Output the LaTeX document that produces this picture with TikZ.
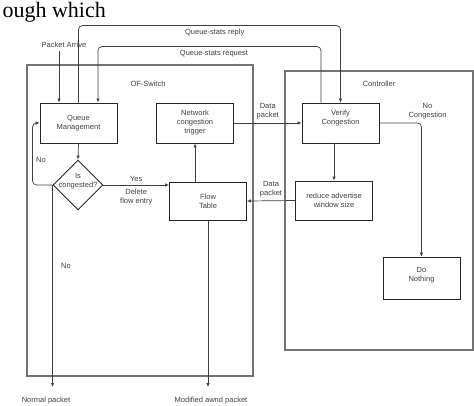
\documentclass[tikz,border=0pt]{standalone}
\usepackage{fontspec}
\setmainfont{Liberation Sans}
\newfontfamily\paperfont{Liberation Serif}
\usetikzlibrary{positioning}
\usetikzlibrary{shapes.geometric}
\usetikzlibrary{arrows.meta}
\tikzset{every node/.style={font=\fontsize{7.5}{9}\selectfont, text=black!75, align=center}}
\tikzset{blk/.style={draw=black!85, line width=0.9pt, minimum width=77pt, minimum height=40pt, inner sep=1pt}}
\tikzset{area/.style={draw=black!55, line width=1.2pt}}
\tikzset{flow/.style={draw=black!75, line width=0.7pt, -{Latex[length=4pt,width=3.5pt]}}}

\begin{document}
\begin{tikzpicture}[x=1pt, y=-1pt]
\useasboundingbox (0,0) rectangle (474,405);
\node[anchor=base west, font=\paperfont\fontsize{22}{24}\selectfont, text=black] (cut) at (-1,17) {ough which};
% switch and controller
\node[area, minimum width=226pt, minimum height=311pt] (ofs) at (140,220.5) {};
\node[area, minimum width=188pt, minimum height=279pt] (ctrl) at (379,210.5) {};
\node (ofsl) at (148,84) {OF-Switch};
\node (ctrll) at (379,84) {Controller};
\node[blk] (qm) at (78.5,123) {Queue\\Management};
\node[blk] (nct) at (195,123) {Network\\congestion\\trigger};
\node[blk] (vc) at (340.5,123) {};
\node[yshift=5pt] (vcl) at (vc) {Verify\\Congestion};
\node[blk, minimum height=38pt] (ft) at (208,201) {Flow\\Table};
\node[blk, minimum height=39pt] (raws) at (334,200.5) {reduce advertise\\window size};
\node[blk, minimum height=42pt] (dn) at (421.5,278) {};
\node[yshift=3pt] (dnl) at (dn) {Do\\Nothing};
\node[diamond, draw=black!85, line width=0.9pt, minimum size=50pt, inner sep=0pt] (dec) at (78,185) {};
\node[yshift=4pt] (decl) at (dec) {Is\\congested?};
\node (pa) at (64,45) {Packet Arrive};
\node (npk) at (46,401) {Normal packet};
\node (mod) at (211,401) {Modified awnd packet};
\coordinate (out) at (0,387);
\coordinate (pin) at ([xshift=-19.5pt]qm.north);
\coordinate (rqin) at ([xshift=19.5pt]qm.north);
\coordinate (rqout) at ([xshift=-19.5pt]vc.north);
% connectors
\draw[flow, rounded corners=4pt] (qm.north) -- ++(0,-77) -| (vc.north) node[pos=0.26, below] {Queue-stats reply};
\draw[flow, rounded corners=4pt] (rqout) -- ++(0,-56) -| (rqin) node[pos=0.24, below] {Queue-stats request};
\draw[flow] (pin |- pa.south) -- (pin);
\draw[flow] (qm.south) -- (dec.north);
\draw[flow] (dec.east) -- (dec.east -| ft.west) node[midway, above] {Yes} node[midway, below] {Delete\\flow entry};
\draw[flow, rounded corners=4pt] (dec.west) -- ++(-20,0) |- (qm.west) node[pos=0.2, right] {No};
\draw[flow] (dec.west) -- (dec.west |- out) node[pos=0.4, right=5pt] {No};
\draw[flow] (ft.south) -- (ft.south |- out);
\draw[flow, line width=0.9pt] (nct.south |- ft.north) -- (nct.south);
\draw[flow] (nct.east) -- (vc.west) node[midway, above] {Data\\packet};
\draw[flow] (raws.north |- vc.south) -- (raws.north);
\draw[flow] (raws.west) -- (ft.east) node[midway, above] {Data\\packet};
\draw[flow, rounded corners=4pt] (vc.east) -| (dn.north) node[pos=0.5, above, xshift=6pt] {No\\Congestion};
\end{tikzpicture}
\end{document}
